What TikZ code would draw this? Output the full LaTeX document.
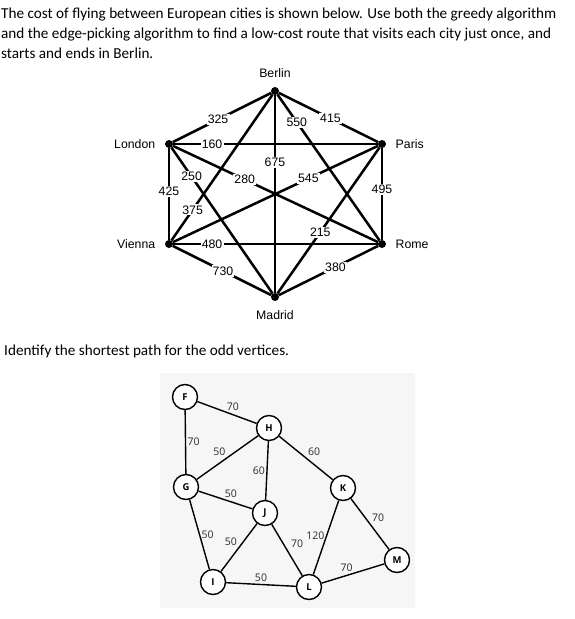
\documentclass[tikz,border=0pt]{standalone}
\usepackage{fontspec}
\setmainfont{Carlito}
\newfontfamily\helv{Liberation Sans}
\newfontfamily\opensans{Open Sans}
\usetikzlibrary{positioning}
\definecolor{panelgray}{HTML}{F6F6F6}
\definecolor{inkgray}{HTML}{2A2A2A}

\begin{document}
\begin{tikzpicture}[x=1pt, y=-1pt,
  prose/.style={anchor=base west, inner sep=0pt, font=\fontsize{15.2}{20}\selectfont},
  city/.style={circle, fill=black, inner sep=0pt, minimum size=8pt},
  cityname/.style={font=\helv\fontsize{12.3}{13}\selectfont, label distance=6pt},
  road/.style={line width=2.5pt},
  cost/.style={fill=white, inner sep=1.2pt, font=\helv\fontsize{12.3}{13}\selectfont},
  vtx/.style={circle, draw, line width=1.4pt, fill=white, minimum size=25pt,
              inner sep=0pt, font=\opensans\bfseries\fontsize{9.5}{10}\selectfont},
  link/.style={line width=1.4pt},
  wt/.style={inner sep=1.5pt, text=inkgray, font=\opensans\fontsize{10.5}{11}\selectfont},
  ]
  \useasboundingbox (0,0) rectangle (575,619);

  % question
  \node[prose] (line1) at (1,18) {The cost of flying between European cities is shown below. Use both the greedy algorithm};
  \node[prose] (line2) at (1,38) {and the edge-picking algorithm to find a low-cost route that visits each city just once, and};
  \node[prose] (line3) at (1,58) {starts and ends in Berlin.};

  % cities
  \node[city, label={[cityname]above:Berlin}] (berlin) at (275,91) {};
  \node[city, label={[cityname]left:London}] (london) at (169,144) {};
  \node[city, label={[cityname]right:Paris}] (paris) at (382,144) {};
  \node[city, label={[cityname]left:Vienna}] (vienna) at (169,244) {};
  \node[city, label={[cityname]right:Rome}] (rome) at (382,244) {};
  \node[city, label={[cityname]below:Madrid}] (madrid) at (275,297) {};

  \foreach \a/\b in {london/berlin, london/paris, london/madrid, london/rome,
      london/vienna, vienna/berlin, berlin/rome, berlin/paris, berlin/madrid,
      paris/vienna, paris/rome, madrid/paris, vienna/rome, vienna/madrid,
      madrid/rome}
    \draw[road] (\a) -- (\b);
  % costs on top of all roads
  \foreach \a/\b/\p/\c in {london/berlin/0.46/325, london/paris/0.19/160,
      london/madrid/0.2/250, london/rome/0.35/280, london/vienna/0.47/425,
      vienna/berlin/0.21/375, berlin/rome/0.19/550, berlin/paris/0.52/415,
      berlin/madrid/0.34/675, paris/vienna/0.34/545, paris/rome/0.45/495,
      madrid/paris/0.42/215, vienna/rome/0.19/480, vienna/madrid/0.51/730,
      madrid/rome/0.57/380}
    \path (\a) -- node[cost, pos=\p] {\c} (\b);

  \node[prose] (ask) at (4,355) {Identify the shortest path for the odd vertices.};

  % odd vertices panel
  \fill[panelgray] (160,373) rectangle (415,608);
  \node[vtx] (f) at (185,397) {F};
  \node[vtx] (h) at (269,428) {H};
  \node[vtx] (g) at (186,487) {G};
  \node[vtx] (j) at (265,513) {J};
  \node[vtx] (k) at (343,488) {K};
  \node[vtx] (i) at (213,582) {I};
  \node[vtx] (l) at (309,587) {L};
  \node[vtx] (m) at (397,560) {M};

  \draw[link] (f) -- node[wt, pos=0.6, above=2pt] {70} (h);
  \draw[link] (f) -- node[wt, midway, right] {70} (g);
  \draw[link] (g) -- node[wt, midway, above left] {50} (h);
  \draw[link] (h) -- node[wt, midway, left] {60} (j);
  \draw[link] (h) -- node[wt, midway, above right] {60} (k);
  \draw[link] (g) -- node[wt, pos=0.6, above=2pt] {50} (j);
  \draw[link] (g) -- node[wt, midway, right] {50} (i);
  \draw[link] (j) -- node[wt, midway, above left] {50} (i);
  \draw[link] (j) -- node[wt, midway, above right, xshift=2pt] {70} (l);
  \draw[link] (k) -- node[wt, pos=0.48, left] {120} (l);
  \draw[link] (k) -- node[wt, midway, above right] {70} (m);
  \draw[link] (i) -- node[wt, midway, above=1pt] {50} (l);
  \draw[link] (l) -- node[wt, pos=0.4, above=2pt] {70} (m);
\end{tikzpicture}
\end{document}
